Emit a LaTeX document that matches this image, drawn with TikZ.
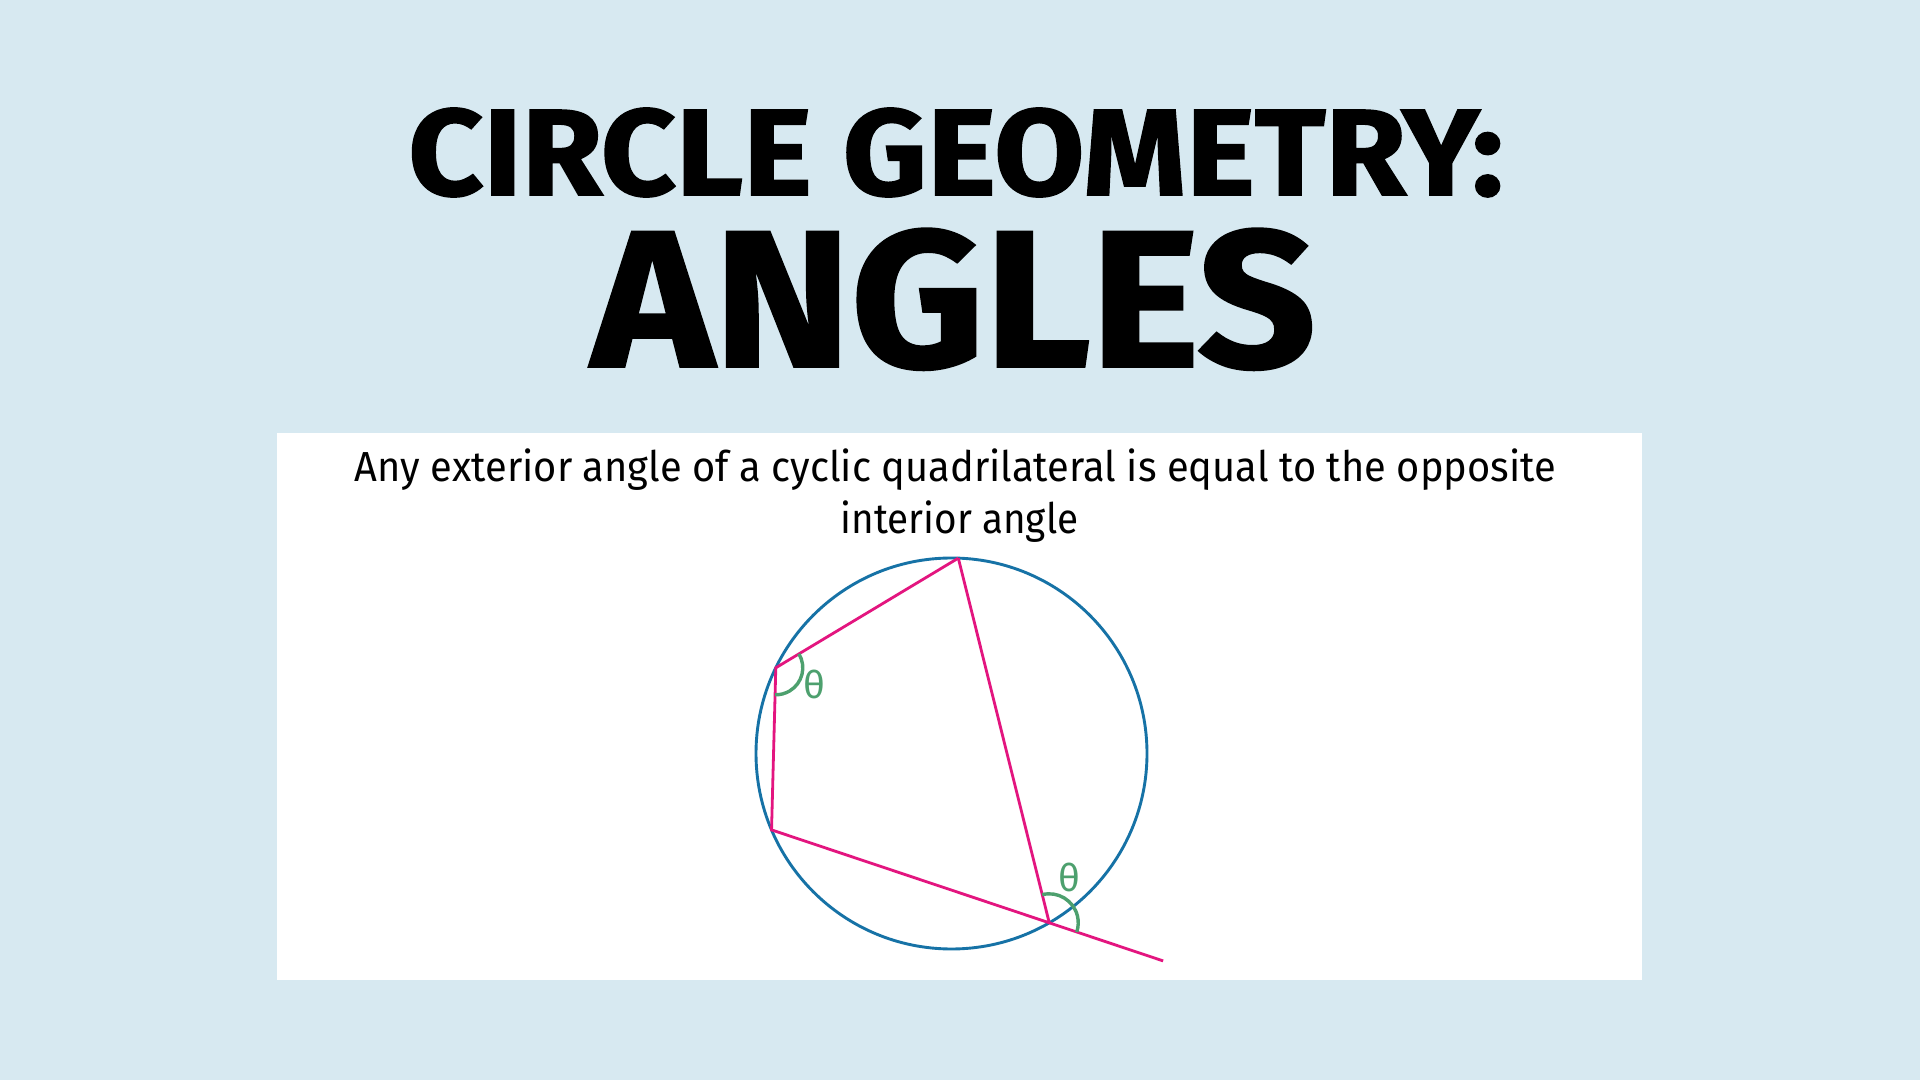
\documentclass[tikz,border=0pt]{standalone}
\usepackage{fontspec}
\setmainfont{Fira Sans}
\newfontfamily\titlefont{Fira Sans}[BoldFeatures={FakeBold=1.3}]
\usetikzlibrary{calc}
\definecolor{bgblue}{HTML}{D7E9F1}
\definecolor{circblue}{HTML}{1672A6}
\definecolor{quadmag}{HTML}{E3157F}
\definecolor{anggreen}{HTML}{4DA06E}
\tikzset{
  circ/.style={draw=circblue, line width=2.9pt},
  quad/.style={draw=quadmag, line width=2.8pt},
  angarc/.style={draw=anggreen, line width=3.4pt},
  thetalbl/.style={text=anggreen, inner sep=0, font=\fontsize{38}{40}\selectfont},
  txt/.style={inner sep=0, anchor=base}
}
\begin{document}
\begin{tikzpicture}[x=1pt,y=1pt]
\fill[bgblue] (0,0) rectangle (1920,1080);
\useasboundingbox (0,0) rectangle (1920,1080);
\fill[white] (277,100) rectangle (1642,647);
% titles
\node[txt] (t1) at (955.8,885) {\resizebox{1095pt}{87pt}{\titlefont\bfseries CIRCLE GEOMETRY:}};
\node[txt] (t2) at (953.7,713.3) {\resizebox{723pt}{138pt}{\titlefont\bfseries ANGLES}};
% statement
\node[txt] (l1) at (955.5,598.3) {\resizebox{1201pt}{\height}{\fontsize{42}{50}\selectfont Any exterior angle of a cyclic quadrilateral is equal to the opposite}};
\node[txt] (l2) at (959.5,546) {\resizebox{237.6pt}{\height}{\fontsize{42}{50}\selectfont interior angle}};
% geometry
\coordinate (O) at (951.5,326.5);
\coordinate (A) at ($(O)+(88:195.5)$);
\coordinate (B) at ($(O)+(154:195.5)$);
\coordinate (C) at ($(O)+(203:195.5)$);
\coordinate (D) at ($(O)+(300:195.5)$);
\coordinate (E) at ($(C)!1.41!(D)$);
\draw[circ] (O) circle[radius=195.5];
\draw[quad] (A) -- (B) -- (C) -- (D) -- (E);
\draw[quad] (A) -- (D);
\draw[angarc] (B) ++(31:27) arc[start angle=31, end angle=-91.5, radius=27];
\draw[angarc] (D) ++(104:29) arc[start angle=104, end angle=-18.5, radius=29];
\node[thetalbl] (th1) at (814,396) {θ};
\node[thetalbl] (th2) at (1069.5,203) {θ};
\end{tikzpicture}
\end{document}
